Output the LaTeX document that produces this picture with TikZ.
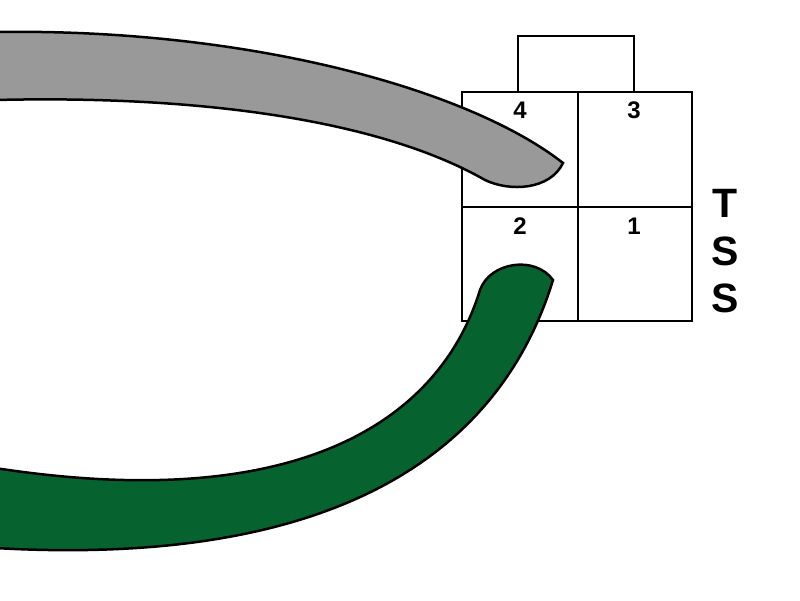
\documentclass[tikz,border=0pt]{standalone}
\usepackage{fontspec}
\setmainfont{Liberation Sans}
\begin{document}
\begin{tikzpicture}[x=1pt,y=-1pt,line width=2.5pt,
  lab/.style={font=\bfseries\fontsize{24}{24}\selectfont},
  big/.style={font=\bfseries\fontsize{41}{41}\selectfont}]
\useasboundingbox (0,0) rectangle (800,600);
\definecolor{wg}{HTML}{999999}
\definecolor{wgr}{HTML}{066330}
\draw (518,92) -- (518,36) -- (634,36) -- (634,92);
\draw (462,92) rectangle (692,321);
\draw (578,92) -- (578,321);
\draw (462,207) -- (692,207);
\node[lab] (n4) at (520,110) {4};
\node[lab] (n3) at (634,110) {3};
\node[lab] (n2) at (520,226) {2};
\node[lab] (n1) at (634,226) {1};
\node[big] (t) at (725,203) {T};
\node[big] (s1) at (725,251) {S};
\node[big] (s2) at (725,298) {S};
\draw[fill=wg] (-5,32) .. controls (250,28) and (470,90) .. (563,163)
  .. controls (550,190) and (510,192) .. (485,180)
  .. controls (380,120) and (200,95) .. (-5,100) -- cycle;
\draw[fill=wgr] (-5,468) .. controls (300,515) and (440,420) .. (480,290)
  .. controls (490,262) and (535,255) .. (553,280)
  .. controls (510,420) and (380,570) .. (-5,548) -- cycle;
\end{tikzpicture}
\end{document}
